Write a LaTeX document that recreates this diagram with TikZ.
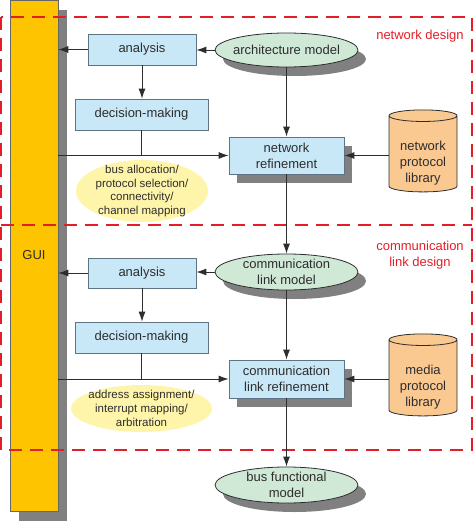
\documentclass[tikz,border=0pt]{standalone}
\usepackage{fontspec}
\setmainfont{Liberation Sans}
\usetikzlibrary{positioning,shapes.geometric,shadows,arrows.meta}

\definecolor{guiyellow}{RGB}{255,196,0}
\definecolor{boxblue}{RGB}{200,232,248}
\definecolor{boxline}{RGB}{95,115,130}
\definecolor{modelgreen}{RGB}{208,232,214}
\definecolor{libcolor}{RGB}{250,200,145}
\definecolor{noteyellow}{RGB}{255,245,170}
\definecolor{designred}{RGB}{228,30,40}
\definecolor{shadowgray}{RGB}{128,128,128}
\definecolor{inkgray}{RGB}{45,45,45}

\tikzset{
  graydrop/.style={drop shadow={shadow xshift=8pt,shadow yshift=-9pt,fill=shadowgray,opacity=1}},
  guibar/.style={draw=black!60,line width=0.5pt,fill=guiyellow,text=inkgray,minimum width=48pt,minimum height=511pt,
    drop shadow={shadow xshift=9pt,shadow yshift=-10pt,fill=shadowgray,opacity=1},font=\fontsize{13}{16}\selectfont},
  procbox/.style={draw=boxline,line width=0.8pt,fill=boxblue,text=inkgray,inner sep=0pt,align=center,font=\fontsize{13}{16}\selectfont},
  modelnode/.style={ellipse,draw=inkgray,line width=0.8pt,fill=modelgreen,text=inkgray,inner sep=-6pt,align=center,
    minimum width=143pt,graydrop,font=\fontsize{13}{16}\selectfont},
  libnode/.style={cylinder,shape border rotate=90,aspect=0.25,draw=inkgray,line width=0.8pt,fill=libcolor,text=inkgray,
    inner sep=0pt,minimum width=68pt,minimum height=82pt,align=center,font=\fontsize{13}{16}\selectfont},
  choicenote/.style={ellipse,fill=noteyellow,text=inkgray,inner sep=-6pt,align=center,font=\fontsize{11.5}{13.7}\selectfont},
  designframe/.style={draw=designred,line width=2.2pt,dash pattern=on 13pt off 8pt},
  designlabel/.style={text=designred,align=center,font=\fontsize{13}{16}\selectfont},
  flow/.style={draw=inkgray,line width=0.9pt,-{Latex[length=10pt,width=7pt]}},
  joinline/.style={draw=inkgray,line width=0.9pt}
}

\begin{document}
\begin{tikzpicture}[x=1pt,y=1pt,yscale=-1,xscale=1]
\useasboundingbox (0,0) rectangle (474,521);

%Shape: GUI bar
\node[guibar] (gui) at (34,255.5) {GUI};

%Shape: Dashed frames
\draw[designframe] (1,17) rectangle (472,450);
\draw[designframe] (1,225) -- (472,225);

% Text Node
\node[designlabel] (netdesign) at (420,36) {network design};
% Text Node
\node[designlabel] (linkdesign) at (420,255) {communication\\link design};

%Shape: network design part
\node[procbox,minimum width=108pt,minimum height=31pt] (analysisA) at (142,49.5) {analysis};
\node[procbox,minimum width=133pt,minimum height=31pt] (decisionA) at (141.5,114.5) {decision-making};
\node[modelnode,minimum height=34pt] (archmodel) at (286.5,50) {architecture model};
\node[procbox,graydrop,minimum width=115pt,minimum height=37pt] (netrefine) at (286.5,155.5) {network\\refinement};
\node[libnode] (netlib) at (423,154) {{}\\[12pt]network\\protocol\\library};
\node[choicenote,minimum width=132pt,minimum height=62pt] (netchoice) at (142,191)
  {bus allocation/\\protocol selection/\\connectivity/\\channel mapping};

%Shape: communication link design part
\node[procbox,minimum width=108pt,minimum height=30pt] (analysisB) at (142,273) {analysis};
\node[procbox,minimum width=133pt,minimum height=31pt] (decisionB) at (141.5,337.5) {decision-making};
\node[modelnode,minimum height=36pt] (linkmodel) at (286.5,272) {communication\\link model};
\node[procbox,graydrop,minimum width=115pt,minimum height=38pt] (linkrefine) at (286.5,379) {communication\\link refinement};
\node[libnode] (medialib) at (423,378) {{}\\[12pt]media\\protocol\\library};
\node[choicenote,minimum width=141pt,minimum height=47pt] (linkchoice) at (141.5,408.5)
  {address assignment/\\interrupt mapping/\\arbitration};

%Shape: result
\node[modelnode,minimum height=36pt] (busmodel) at (286.5,485) {bus functional\\model};

% Connectors
\draw[flow] (archmodel.west) -- (archmodel.west -| analysisA.east);
\draw[flow] (analysisA.west) -- (analysisA.west -| gui.east);
\draw[flow] (analysisA.south) -- (analysisA.south |- decisionA.north);
\draw[joinline] (decisionA.south) -- (decisionA.south |- netrefine.west);
\draw[flow] (gui.east |- netrefine.west) -- (netrefine.west);
\draw[flow] (archmodel) -- (netrefine);
\draw[flow] (netlib.west |- netrefine.east) -- (netrefine.east);
\draw[flow] (netrefine) -- (linkmodel);

\draw[flow] (linkmodel.west) -- (linkmodel.west -| analysisB.east);
\draw[flow] (analysisB.west) -- (analysisB.west -| gui.east);
\draw[flow] (analysisB.south) -- (analysisB.south |- decisionB.north);
\draw[joinline] (decisionB.south) -- (decisionB.south |- linkrefine.west);
\draw[flow] (gui.east |- linkrefine.west) -- (linkrefine.west);
\draw[flow] (linkmodel) -- (linkrefine);
\draw[flow] (medialib.west |- linkrefine.east) -- (linkrefine.east);
\draw[flow] (linkrefine) -- (busmodel);

\end{tikzpicture}
\end{document}
